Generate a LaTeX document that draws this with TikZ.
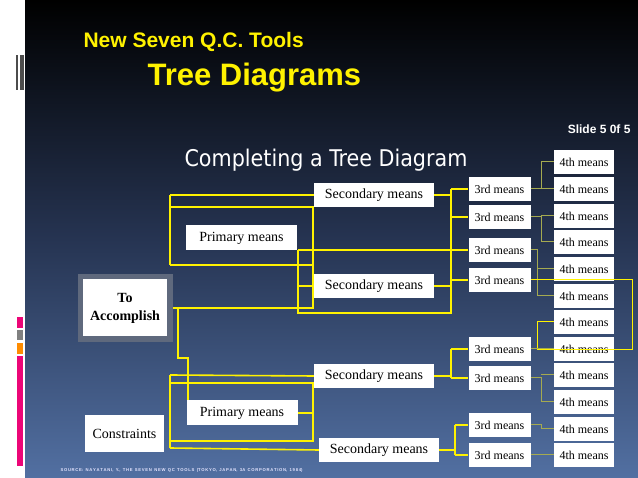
\documentclass[tikz,border=0pt]{standalone}
\usepackage{fontspec}
\setmainfont{Liberation Serif}
\setsansfont{Liberation Sans}
\newfontfamily\ttl{DejaVu Sans Condensed}
\definecolor{bgtop}{RGB}{0,0,0}
\definecolor{bgmid}{RGB}{38,52,82}
\definecolor{bgbot}{RGB}{82,112,162}
\definecolor{olive}{RGB}{165,170,80}
\definecolor{frm}{RGB}{95,105,125}
\begin{document}
\begin{tikzpicture}[x=1pt,y=-1pt,
  box/.style={fill=white,inner sep=0pt,font=\fontsize{14}{15}\selectfont},
  thr/.style={box,minimum width=62pt,minimum height=24pt,font=\fontsize{12}{13}\selectfont},
  fth/.style={box,minimum width=60pt,minimum height=24pt,font=\fontsize{12}{13}\selectfont},
  sec/.style={box,minimum width=120pt,minimum height=24pt},
  pri/.style={box,minimum width=111pt,minimum height=25pt},
  yl/.style={draw=yellow,line width=1.6pt},
  gl/.style={draw=olive,line width=1pt}]
\useasboundingbox (0,0) rectangle (638,478);
\fill[white] (0,0) rectangle (638,478);
\shade[top color=bgtop,bottom color=bgbot,middle color=bgmid] (25,0) rectangle (638,478);
\fill[black!70] (16,55) rectangle (18,90);
\fill[black!70] (20,55) rectangle (24,90);
\fill[magenta!80!red] (17,317) rectangle (23,328);
\fill[gray] (17,330) rectangle (23,340);
\fill[orange!90!yellow] (17,343) rectangle (23,354);
\fill[magenta!80!red] (17,356) rectangle (23,466);
\node[anchor=west,text=yellow,font=\sffamily\bfseries\fontsize{21}{22}\selectfont] (t1) at (80,42) {New Seven Q.C. Tools};
\node[anchor=west,text=yellow,font=\sffamily\bfseries\fontsize{31}{32}\selectfont] (t2) at (144,78) {Tree Diagrams};
\node[anchor=east,text=white,font=\sffamily\bfseries\fontsize{12}{14}\selectfont] (sl) at (634,129) {Slide 5 0f 5};
\node[anchor=west,text=white,font=\ttl\fontsize{23}{24}\selectfont] (ct) at (181,160) {Completing a Tree Diagram};
% lines first
\coordinate (a1) at (170,195); \coordinate (a2) at (170,265);
\draw[yl] (a1)--(a2);
\draw[yl] (170,207)--(313,207)--(313,308)--(167,308);
\draw[yl] (a2)--(313,265);
\draw[yl] (298,250)--(468,250);
\draw[yl] (298,250)--(298,313)--(451,313)--(451,189);
\draw[yl] (178,308)--(178,358)--(188,358)--(188,412);
\draw[yl] (170,375)--(170,448);
\draw[yl] (170,383)--(313,383)--(313,441)--(170,441);
\draw[yl] (297,413)--(313,413);
\draw[yl] (451,349)--(451,378);
\draw[yl] (455,425)--(455,455);
% nodes
\node[fill=frm,minimum width=95pt,minimum height=68pt] (fr) at (125,308) {};
\node[box,minimum width=84pt,minimum height=57pt,align=center,font=\bfseries\fontsize{14}{18}\selectfont] (ta) at (125,308) {To\\Accomplish};
\node[box,minimum width=79pt,minimum height=37pt] (co) at (124.5,434) {Constraints};
\node[pri] (p1) at (241.5,238) {Primary means};
\node[pri] (p2) at (242,413) {Primary means};
\node[sec] (s1) at (374,195) {Secondary means};
\node[sec] (s2) at (374,286) {Secondary means};
\node[sec] (s3) at (374,376) {Secondary means};
\node[sec] (s4) at (379,450) {Secondary means};
\foreach \n/\y in {1/189,2/217,3/250,4/280,5/349,6/378,7/425,8/455}
  \node[thr] (r\n) at (499.5,\y) {3rd means};
\foreach \n/\y in {1/162,2/189,3/216,4/242,5/269,6/296,7/322,8/349,9/375,10/402,11/429,12/455}
  \node[fth] (f\n) at (584,\y) {4th means};
\draw[yl] (a1)--(s1.west);
\draw[yl] (170,375)--(s3.west);
\draw[yl] (170,448)--(s4.west);
\draw[yl] (s1.east)--(451,195);
\draw[yl] (451,189)--(r1.west);
\draw[yl] (451,217)--(r2.west);
\draw[yl] (298,286)--(s2.west);
\draw[yl] (s2.east)--(451,286);
\draw[yl] (451,280)--(r4.west);
\draw[yl] (s3.east)--(451,376);
\draw[yl] (451,349)--(r5.west);
\draw[yl] (451,378)--(r6.west);
\draw[yl] (s4.east)--(455,450);
\draw[yl] (455,425)--(r7.west);
\draw[yl] (455,455)--(r8.west);
% 3rd -> 4th
\draw[gl] (r1.east)--(f2.west);
\draw[gl] (541,189)--(541,162)--(f1.west);
\draw[gl] (r2.east)--(541,217)--(541,242)--(f4.west);
\draw[gl] (541,216)--(f3.west);
\draw[gl] (r3.east)--(537,250)--(537,296)--(f6.west);
\draw[gl] (537,269)--(f5.west);
\draw[yl,line width=1pt] (r4.east)--(632,280)--(632,350)--(537,350)--(537,322)--(f7.west);
\draw[gl] (r5.east)--(f8.west);
\draw[gl] (r6.east)--(541,378)--(541,402)--(f10.west);
\draw[gl] (541,375)--(f9.west);
\draw[gl] (r7.east)--(541,425)--(541,429)--(f11.west);
\draw[gl] (r8.east)--(f12.west);
\node[anchor=west,text=white!90!blue,font=\sffamily\bfseries\fontsize{4.2}{5}\selectfont] (src) at (57,470) {S\,O\,U\,R\,C\,E:\ \ N\,A\,Y\,A\,T\,A\,N\,I,\ \ Y.,\ \ T\,H\,E\ \ S\,E\,V\,E\,N\ \ N\,E\,W\ \ Q\,C\ \ T\,O\,O\,L\,S\ \ (T\,O\,K\,Y\,O,\ \ J\,A\,P\,A\,N,\ \ 3A\ \ C\,O\,R\,P\,O\,R\,A\,T\,I\,O\,N,\ \ 1\,9\,8\,4)};
\end{tikzpicture}
\end{document}
